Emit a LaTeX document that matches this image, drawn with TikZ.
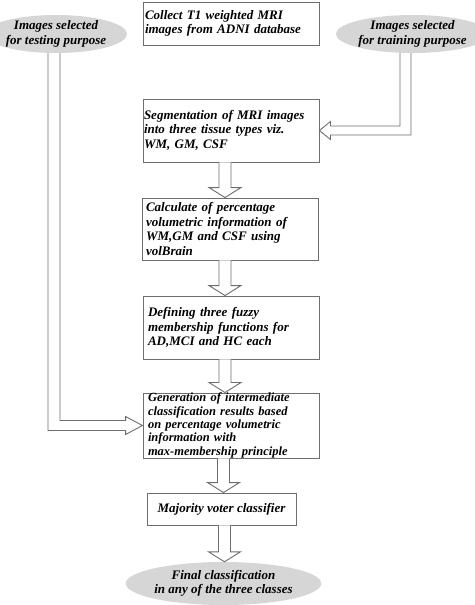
\documentclass[tikz,border=0pt]{standalone}
\usepackage{fontspec}
\setmainfont{Liberation Serif}
\usetikzlibrary{calc,shapes.geometric,backgrounds}
\definecolor{edgegray}{HTML}{6E6E6E}
\definecolor{ellgray}{HTML}{D6D6D6}
\newcommand\blkdown[3]{%
  \draw[blockarrow] let \p1=(#1.south), \p2=(#2.north) in
    (\x1+#3-6pt,\y1) -- (\x1+#3-6pt,\y2+10pt) -- (\x1+#3-16pt,\y2+10pt) --
    (\x1+#3,\y2) -- (\x1+#3+16pt,\y2+10pt) -- (\x1+#3+6pt,\y2+10pt) --
    (\x1+#3+6pt,\y1);}
\tikzset{
  txt/.style={font=\bfseries\itshape\fontsize{13}{14.5}\selectfont, text=black},
  stepbox/.style={txt, draw=edgegray, line width=0.9pt, rectangle, align=left,
    inner xsep=3pt, inner ysep=1pt},
  oval/.style={txt, ellipse, fill=ellgray, draw=none, align=center, inner sep=0pt},
  blockarrow/.style={draw=edgegray, line width=0.9pt, fill=white, line join=miter},
}
\begin{document}
\begin{tikzpicture}[x=1pt,y=-1pt]
\path[use as bounding box] (0,0) rectangle (474,605);

\node[stepbox, minimum width=176pt, minimum height=43pt, text width=172pt, inner xsep=2pt] (collect) at (231,23.5)
  {Collect T1 weighted MRI\\images from ADNI database};
\node[stepbox, minimum width=176pt, minimum height=63pt, text width=174pt, inner xsep=1pt] (seg) at (231,130.5)
  {Segmentation of MRI images\\into three tissue types viz.\\WM, GM, CSF\vphantom{g}};
\node[stepbox, minimum width=176pt, minimum height=62pt, text width=168pt, inner xsep=4pt] (calc) at (230,229)
  {Calculate of percentage\\volumetric information of\\WM,GM and CSF using\\volBrain};
\node[stepbox, minimum width=176pt, minimum height=63pt, text width=166pt, inner xsep=5pt] (def) at (231,327.5)
  {Defining three fuzzy\\membership functions for\\AD,MCI and HC each\\[4pt]};
\node[stepbox, minimum width=176pt, minimum height=63pt, text width=166pt, inner xsep=5pt, inner ysep=0pt,
  font=\bfseries\itshape\fontsize{12.5}{13.4}\selectfont] (gen) at (231,425.5)
  {Generation of intermediate\\classification results based\\on percentage volumetric\\information with\\max-membership principle};
\node[stepbox, minimum width=149pt, minimum height=32pt, align=center] (maj) at (221.5,509)
  {Majority voter classifier};

\node[oval, minimum width=112pt, minimum height=38pt] (test) at (56,34)
  {Images selected\\for testing purpose};
\node[oval, minimum width=122pt, minimum height=38pt] (train) at (412.5,34)
  {Images selected\\for training purpose};
\node[oval, minimum width=151pt, minimum height=43pt] (final) at (223.5,583.5)
  {Final classification\\in any of the three classes};

\blkdown{seg}{calc}{-6pt}
\blkdown{calc}{def}{-5pt}
\blkdown{def}{gen}{-6pt}
\blkdown{gen}{maj}{-7.5pt}
\blkdown{maj}{final}{3pt}

\begin{scope}[on background layer]
\draw[blockarrow] let \p1=(test.south), \p2=(gen.west) in
  (\x1+4pt,\y1+3pt) -- (\x1+4pt,\y2+5pt) -- (\x2-17pt,\y2+5pt) -- (\x2-17pt,\y2+9pt) --
  (\x2,\y2) -- (\x2-17pt,\y2-9pt) -- (\x2-17pt,\y2-5pt) -- (\x1-8pt,\y2-5pt) -- (\x1-8pt,\y1+3pt);
\draw[blockarrow] let \p1=(train.south), \p2=(seg.east) in
  (\x1-12.5pt,\y1+3pt) -- (\x1-12.5pt,\y2+4.5pt) -- (\x2+11pt,\y2+4.5pt) -- (\x2+11pt,\y2+9pt) --
  (\x2,\y2) -- (\x2+11pt,\y2-9pt) -- (\x2+11pt,\y2-4.5pt) -- (\x1-1.5pt,\y2-4.5pt) -- (\x1-1.5pt,\y1+3pt);
\end{scope}
\end{tikzpicture}
\end{document}
